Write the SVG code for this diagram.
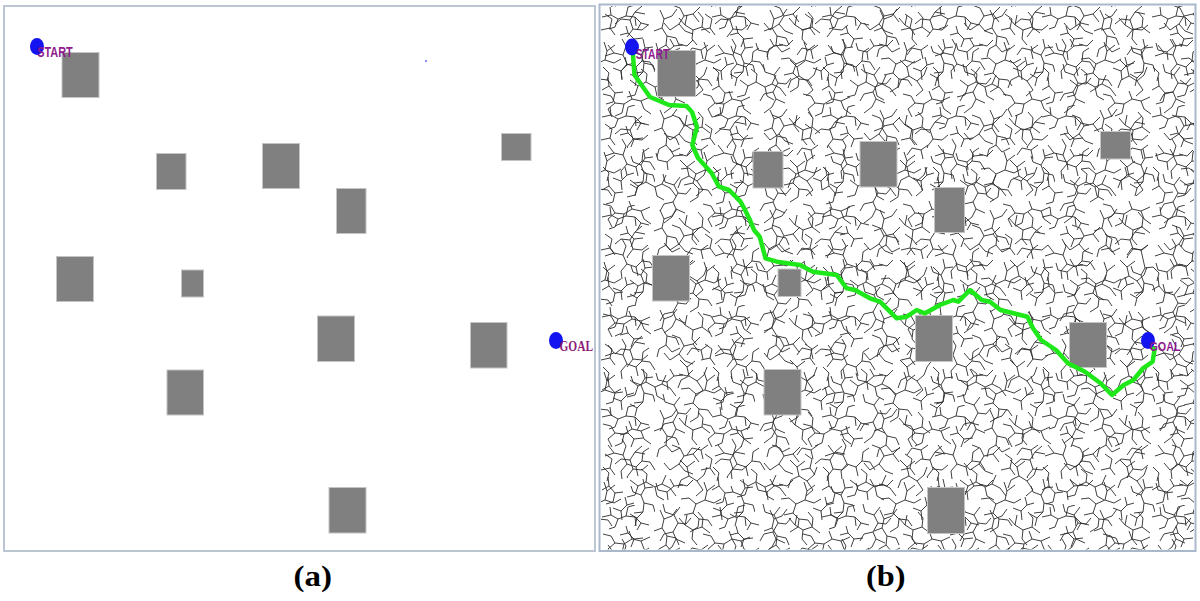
<svg xmlns="http://www.w3.org/2000/svg" xmlns:xlink="http://www.w3.org/1999/xlink" width="1200" height="601" viewBox="0 0 1200 601">
<style>
.panel{fill:#ffffff;stroke:#bcc6d2;stroke-width:2}
.obs{fill:#808080;stroke:#c4c4c4;stroke-width:1}
.pt{fill:#1414f0}
.lbl{fill:#8e1a8e;font-family:"Liberation Sans",Arial,sans-serif;font-weight:bold}
.lbls{fill:#8e1a7a;font-family:"Liberation Serif","Times New Roman",serif;font-weight:bold}
.cap{fill:#000;font-family:"Liberation Serif","Times New Roman",serif;font-weight:bold;font-size:29px}
.tree{fill:none;stroke:#2a2a2a;stroke-width:0.9;stroke-linejoin:round}
.route{fill:none;stroke:#1ee81a;stroke-width:4.5;stroke-linejoin:round;stroke-linecap:round}
</style>
<defs>
<path id="tile" class="tree" d="M2 12 l9 -2 l7 4 l8 -3 l9 1 l6 6 M11 10 l-1 -8 M18 14 l-3 8 l-6 2 M26 11 l2 -9 l7 -2 M35 12 l1 9 M41 18 l-4 7 M41 18 l8 2 M60 5 l4 9 l-2 9 l5 8 l-1 9 l6 7 M64 14 l8 -3 l5 -7 M62 23 l-8 3 M67 31 l9 2 l3 7 M66 40 l-7 4 l-2 8 M72 47 l8 -4 M85 20 l8 5 l9 -3 l8 6 M93 25 l-1 9 l5 6 M102 22 l1 -9 l-5 -6 M85 20 l-6 -7 M85 20 l2 -10 M8 40 l6 8 l9 2 l4 9 l9 3 l6 -6 l8 1 M14 48 l-9 3 M23 50 l3 -9 l-4 -7 M27 59 l-6 7 l1 8 M36 62 l2 9 M42 56 l1 -9 l6 -4 M50 57 l5 8 M30 75 l8 6 l8 -4 l9 5 l7 -3 l8 4 M38 81 l-3 9 l-8 2 M46 77 l1 -8 l-6 -5 M55 82 l2 9 l7 4 M62 79 l4 -9 M70 83 l6 8 M80 55 l7 7 l2 9 l8 5 l6 9 M87 62 l8 -6 M89 71 l-8 4 l-3 8 M97 76 l7 -6 l3 -8 M103 85 l-7 6 M2 85 l7 -4 l6 7 l-2 9 M9 81 l-1 -9 M15 88 l8 -1 M13 97 l-7 2 M20 30 l8 -2 l6 6 l9 -1 M28 28 l-2 -7 M34 34 l-3 8 M108 40 l-7 5 l-9 -2 l-5 7 M101 45 l2 9 M3 62 l6 6 l-2 8"/>
<pattern id="tA" patternUnits="userSpaceOnUse" x="600" y="5" width="110" height="100"><use xlink:href="#tile" href="#tile"/></pattern>
<pattern id="tB" patternUnits="userSpaceOnUse" width="110" height="100" patternTransform="translate(655,37) rotate(90)"><use xlink:href="#tile" href="#tile"/></pattern>
</defs>

<g id="panel-a">
<rect class="panel" x="4" y="6" width="591" height="545"/>
<circle cx="426" cy="61" r="1.2" fill="#9090ff"/>
<g id="obstacles-a">
<rect class="obs" x="62" y="52.5" width="37" height="45"/>
<rect class="obs" x="156.5" y="153.5" width="29.5" height="36"/>
<rect class="obs" x="262.5" y="143.5" width="37" height="45"/>
<rect class="obs" x="336.5" y="188.5" width="29.5" height="45"/>
<rect class="obs" x="501.5" y="133.5" width="29.5" height="27"/>
<rect class="obs" x="56.5" y="256.5" width="37" height="45"/>
<rect class="obs" x="181.5" y="270" width="22" height="27"/>
<rect class="obs" x="317.5" y="316" width="37" height="45.5"/>
<rect class="obs" x="470.5" y="322.5" width="36.5" height="45.5"/>
<rect class="obs" x="167" y="370" width="36.5" height="45"/>
<rect class="obs" x="329" y="487.5" width="37" height="45.5"/>
</g>
<g id="start-a"><ellipse class="pt" cx="37" cy="46.5" rx="7" ry="8.5"/><text class="lbl" x="37.3" y="57" font-size="14" textLength="35.4" lengthAdjust="spacingAndGlyphs">START</text></g>
<g id="goal-a"><ellipse class="pt" cx="556" cy="340.5" rx="7" ry="8.5"/><text class="lbls" x="559.5" y="350.7" font-size="14" textLength="33.5" lengthAdjust="spacingAndGlyphs">GOAL</text></g>
</g>

<g id="panel-b">
<rect class="panel" x="599.5" y="4.5" width="596" height="546.5" style="stroke:#a9b8ca"/>
<g id="tree">
<rect x="601" y="6" width="593" height="543.5" fill="url(#tA)"/>
<rect x="601" y="6" width="593" height="543.5" fill="url(#tB)"/>
</g>
<g id="obstacles-b">
<rect class="obs" x="657.5" y="50.5" width="38" height="46"/>
<rect class="obs" x="753" y="151.5" width="30" height="36.5"/>
<rect class="obs" x="860" y="141.5" width="37" height="45.5"/>
<rect class="obs" x="934.5" y="187.5" width="30" height="45"/>
<rect class="obs" x="1100.5" y="131.5" width="30" height="27.5"/>
<rect class="obs" x="652.5" y="255.5" width="37" height="45.5"/>
<rect class="obs" x="778" y="269" width="23" height="27.5"/>
<rect class="obs" x="915.5" y="315.5" width="37" height="46"/>
<rect class="obs" x="1069.5" y="322.5" width="37" height="45"/>
<rect class="obs" x="764" y="369.5" width="37" height="45.5"/>
<rect class="obs" x="927.5" y="487.5" width="37" height="46"/>
</g>
<g id="connectors">
<polyline class="route" points="632.6,50 634.5,75 650,97 669,105 686.5,106 692,112 697,127 692.3,145 698,158 711.6,173 719,186.7 729,190 740.5,201.7 744,208 750,220 754,230 759.7,236.7 765.5,258.3 777,261.7 800,265 813,271.7 836.7,275 846.7,288.3 855,290 870,298.3 880,301.7 896.7,318.3 906.7,316.7 916.7,310 925,313.3 940,305 953.3,300 958.3,301.7 970,290 981.7,300 990,301.7 1000.5,310 1027.4,316.7 1033,328.3 1041,340 1056,350 1068,363.3 1085,371.7 1100.6,383.3 1112,395 1123.7,385 1133.4,380 1143,368.3 1152.6,361.7 1154.5,350 1150,345"/>
</g>
<g id="start-b"><ellipse class="pt" cx="632" cy="47" rx="7" ry="8.5"/><text class="lbl" x="635.7" y="58.7" font-size="14" textLength="33.5" lengthAdjust="spacingAndGlyphs">START</text></g>
<g id="goal-b"><ellipse class="pt" cx="1148" cy="340.5" rx="7" ry="8.5"/><text class="lbl" x="1149.5" y="351" font-size="13.5" textLength="31" lengthAdjust="spacingAndGlyphs">GOAL</text></g>
</g>

<text class="cap" x="293.5" y="586" textLength="38.5" lengthAdjust="spacingAndGlyphs">(a)</text>
<text class="cap" x="866" y="586" textLength="39.5" lengthAdjust="spacingAndGlyphs">(b)</text>
</svg>
